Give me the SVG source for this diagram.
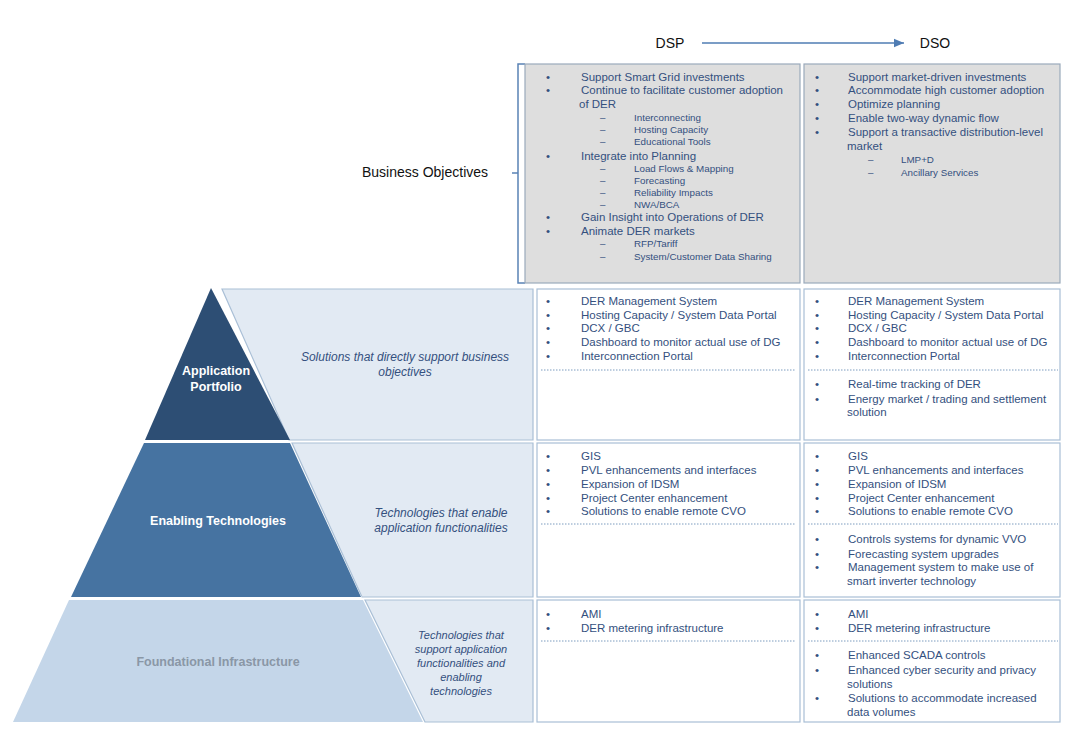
<svg xmlns="http://www.w3.org/2000/svg" width="1087" height="737" viewBox="0 0 1087 737">
<style>
text{font-family:"Liberation Sans",Arial,sans-serif;fill:#34507e}
.t{font-size:11.5px}
.s{font-size:9.8px}
.i{font-size:12px;font-style:italic;text-anchor:middle}
.box{fill:#fff;stroke:#a9bfd6;stroke-width:1.2}
.gray{fill:#dedede;stroke:#9aaabb;stroke-width:1.2}
.band{fill:#e2eaf3;stroke:#a9bfd6;stroke-width:1.2}
.dot{stroke:#7d9cbf;stroke-width:1;stroke-dasharray:1.5 1.5}
.h{font-weight:bold;text-anchor:middle;font-size:12.5px}
</style>
<defs><marker id="ah" markerWidth="8" markerHeight="8" refX="7" refY="4" orient="auto"><path d="M0,1 L7,4 L0,7 Z" fill="#4f7cb3"/></marker></defs>
<rect width="1087" height="737" fill="#fff"/>
<text x="670" y="48" style="font-size:14px;fill:#111;text-anchor:middle">DSP</text>
<text x="935" y="48" style="font-size:14px;fill:#111;text-anchor:middle">DSO</text>
<text x="425" y="177" style="font-size:14px;fill:#111;text-anchor:middle">Business Objectives</text>
<g id="connectors">
<line x1="702" y1="43" x2="904" y2="43" stroke="#4f7cb3" stroke-width="1.5" marker-end="url(#ah)"/>
<path d="M525,64 H518 V283 H525 M518,173 H512" fill="none" stroke="#5a82b5" stroke-width="1.5"/>
</g>
<g id="bands">
<polygon class="band" points="222,289 533,289 533,440 289,440"/>
<polygon class="band" points="292,443 533,443 533,597 362,597"/>
<polygon class="band" points="365,600 533,600 533,722 425,722"/>
<text class="i" x="405" y="361">Solutions that directly support business</text>
<text class="i" x="405" y="376">objectives</text>
<text class="i" x="441" y="517">Technologies that enable</text>
<text class="i" x="441" y="532">application functionalities</text>
<text class="i" x="461" y="639" style="font-size:11px">Technologies that</text>
<text class="i" x="461" y="653" style="font-size:11px">support application</text>
<text class="i" x="461" y="667" style="font-size:11px">functionalities and</text>
<text class="i" x="461" y="681" style="font-size:11px">enabling</text>
<text class="i" x="461" y="695" style="font-size:11px">technologies</text>
</g>
<g id="app"><polygon points="211,288 290,440 145,440" fill="#2d4e74"/>
<text class="h" x="216" y="375" style="fill:#fff">Application</text><text class="h" x="216" y="391" style="fill:#fff">Portfolio</text></g>
<g id="enab"><polygon points="144,443 362,597 71,597 144,443" fill="#fff" stroke="none"/><polygon points="144,443 290,443 361,597 71,597" fill="#4673a1"/>
<text class="h" x="218" y="525" style="fill:#fff">Enabling Technologies</text></g>
<g id="found"><polygon points="69,600 363,600 423,722 13,722" fill="#c4d6e9"/>
<text class="h" x="218" y="666" style="fill:#8a97a6">Foundational Infrastructure</text></g>
<g id="dsp-obj"><rect class="gray" x="525" y="64" width="275" height="219"/>
<g class="t"><text x="546" y="81">•</text><text x="581" y="81">Support Smart Grid investments</text>
<text x="546" y="94">•</text><text x="581" y="94">Continue to facilitate customer adoption</text>
<text x="579" y="108">of DER</text>
<text x="546" y="160">•</text><text x="581" y="160">Integrate into Planning</text>
<text x="546" y="221">•</text><text x="581" y="221">Gain Insight into Operations of DER</text>
<text x="546" y="235">•</text><text x="581" y="235">Animate DER markets</text></g>
<g class="s"><text x="600" y="121">–</text><text x="634" y="121">Interconnecting</text>
<text x="600" y="133">–</text><text x="634" y="133">Hosting Capacity</text>
<text x="600" y="145">–</text><text x="634" y="145">Educational Tools</text>
<text x="600" y="172">–</text><text x="634" y="172">Load Flows &amp; Mapping</text>
<text x="600" y="184">–</text><text x="634" y="184">Forecasting</text>
<text x="600" y="196">–</text><text x="634" y="196">Reliability Impacts</text>
<text x="600" y="208">–</text><text x="634" y="208">NWA/BCA</text>
<text x="600" y="247">–</text><text x="634" y="247">RFP/Tariff</text>
<text x="600" y="260">–</text><text x="634" y="260">System/Customer Data Sharing</text></g></g>
<g id="dso-obj"><rect class="gray" x="804" y="64" width="256" height="219"/>
<g class="t"><text x="815" y="81">•</text><text x="848" y="81">Support market-driven investments</text>
<text x="815" y="94">•</text><text x="848" y="94">Accommodate high customer adoption</text>
<text x="815" y="108">•</text><text x="848" y="108">Optimize planning</text>
<text x="815" y="122">•</text><text x="848" y="122">Enable two-way dynamic flow</text>
<text x="815" y="136">•</text><text x="848" y="136">Support a transactive distribution-level</text>
<text x="847" y="150">market</text></g>
<g class="s"><text x="868" y="163">–</text><text x="901" y="163">LMP+D</text>
<text x="868" y="176">–</text><text x="901" y="176">Ancillary Services</text></g></g>
<g id="dsp-app"><rect class="box" x="537" y="289" width="263" height="151"/>
<g class="t"><text x="546" y="305">•</text><text x="581" y="305">DER Management System</text>
<text x="546" y="319">•</text><text x="581" y="319">Hosting Capacity / System Data Portal</text>
<text x="546" y="332">•</text><text x="581" y="332">DCX / GBC</text>
<text x="546" y="346">•</text><text x="581" y="346">Dashboard to monitor actual use of DG</text>
<text x="546" y="360">•</text><text x="581" y="360">Interconnection Portal</text></g>
<line class="dot" x1="541" y1="370" x2="796" y2="370"/></g>
<g id="dso-app"><rect class="box" x="804" y="289" width="256" height="151"/>
<g class="t"><text x="815" y="305">•</text><text x="848" y="305">DER Management System</text>
<text x="815" y="319">•</text><text x="848" y="319">Hosting Capacity / System Data Portal</text>
<text x="815" y="332">•</text><text x="848" y="332">DCX / GBC</text>
<text x="815" y="346">•</text><text x="848" y="346">Dashboard to monitor actual use of DG</text>
<text x="815" y="360">•</text><text x="848" y="360">Interconnection Portal</text>
<text x="815" y="388">•</text><text x="848" y="388">Real-time tracking of DER</text>
<text x="815" y="403">•</text><text x="848" y="403">Energy market / trading and settlement</text>
<text x="847" y="416">solution</text></g>
<line class="dot" x1="808" y1="370" x2="1058" y2="370"/></g>
<g id="dsp-enab"><rect class="box" x="537" y="443" width="263" height="154"/>
<g class="t"><text x="546" y="460">•</text><text x="581" y="460">GIS</text>
<text x="546" y="474">•</text><text x="581" y="474">PVL enhancements and interfaces</text>
<text x="546" y="488">•</text><text x="581" y="488">Expansion of IDSM</text>
<text x="546" y="502">•</text><text x="581" y="502">Project Center enhancement</text>
<text x="546" y="515">•</text><text x="581" y="515">Solutions to enable remote CVO</text></g>
<line class="dot" x1="541" y1="524" x2="796" y2="524"/></g>
<g id="dso-enab"><rect class="box" x="804" y="443" width="256" height="154"/>
<g class="t"><text x="815" y="460">•</text><text x="848" y="460">GIS</text>
<text x="815" y="474">•</text><text x="848" y="474">PVL enhancements and interfaces</text>
<text x="815" y="488">•</text><text x="848" y="488">Expansion of IDSM</text>
<text x="815" y="502">•</text><text x="848" y="502">Project Center enhancement</text>
<text x="815" y="515">•</text><text x="848" y="515">Solutions to enable remote CVO</text>
<text x="815" y="543">•</text><text x="848" y="543">Controls systems for dynamic VVO</text>
<text x="815" y="558">•</text><text x="848" y="558">Forecasting system upgrades</text>
<text x="815" y="571">•</text><text x="848" y="571">Management system to make use of</text>
<text x="847" y="585">smart inverter technology</text></g>
<line class="dot" x1="808" y1="524" x2="1058" y2="524"/></g>
<g id="dsp-found"><rect class="box" x="537" y="600" width="263" height="122"/>
<g class="t"><text x="546" y="618">•</text><text x="581" y="618">AMI</text>
<text x="546" y="632">•</text><text x="581" y="632">DER metering infrastructure</text></g>
<line class="dot" x1="541" y1="641" x2="796" y2="641"/></g>
<g id="dso-found"><rect class="box" x="804" y="600" width="256" height="122"/>
<g class="t"><text x="815" y="618">•</text><text x="848" y="618">AMI</text>
<text x="815" y="632">•</text><text x="848" y="632">DER metering infrastructure</text>
<text x="815" y="659">•</text><text x="848" y="659">Enhanced SCADA controls</text>
<text x="815" y="674">•</text><text x="848" y="674">Enhanced cyber security and privacy</text>
<text x="847" y="688">solutions</text>
<text x="815" y="702">•</text><text x="848" y="702">Solutions to accommodate increased</text>
<text x="847" y="716">data volumes</text></g>
<line class="dot" x1="808" y1="641" x2="1058" y2="641"/></g>
</svg>
